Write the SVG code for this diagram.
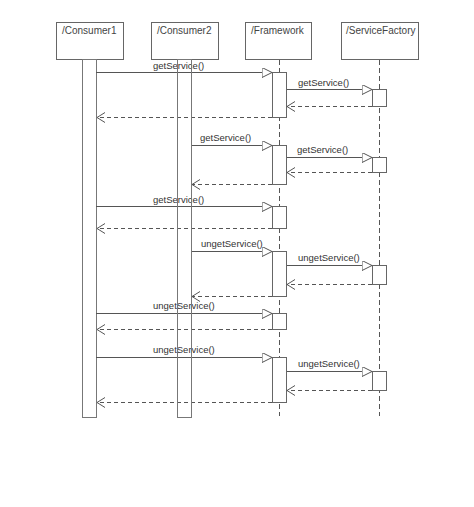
<svg xmlns="http://www.w3.org/2000/svg" width="474" height="507" viewBox="0 0 474 507">
<style>
.hdr{fill:#fff;stroke:#666;stroke-width:1}
.hl{font-family:"Liberation Sans",Arial,sans-serif;font-size:10px;fill:#444}
.lbl{font-family:"Liberation Sans",Arial,sans-serif;font-size:9.5px;fill:#333}
.life{stroke:#555;stroke-width:1;stroke-dasharray:5,3;fill:none}
.bar{fill:none;stroke:#777;stroke-width:1}
.act{fill:#fff;stroke:#666;stroke-width:1}
.call{stroke:#555;stroke-width:1;fill:none;marker-end:url(#tri)}
.ret{stroke:#555;stroke-width:1;fill:none;stroke-dasharray:4,3;marker-end:url(#vee)}
</style>
<defs>
<marker id="tri" markerWidth="12" markerHeight="12" refX="10" refY="5" orient="auto" markerUnits="userSpaceOnUse">
<path d="M0,0 L10,5 L0,10 Z" fill="#fff" stroke="#555" stroke-width="1"/>
</marker>
<marker id="vee" markerWidth="12" markerHeight="12" refX="9" refY="5" orient="auto" markerUnits="userSpaceOnUse">
<path d="M1,0 L9,5 L1,10" fill="none" stroke="#555" stroke-width="1"/>
</marker>
</defs>
<rect width="474" height="507" fill="#fff"/>

<g id="Consumer1">
<rect class="hdr" x="56.5" y="22.5" width="67" height="37"/>
<text class="hl" x="62" y="34">/Consumer1</text>
<rect class="bar" x="82.5" y="59.5" width="14" height="358"/>
</g>
<g id="Consumer2">
<rect class="hdr" x="151.5" y="22.5" width="67" height="37"/>
<text class="hl" x="157" y="34">/Consumer2</text>
</g>
<g id="Framework">
<rect class="hdr" x="245.5" y="22.5" width="66" height="37"/>
<text class="hl" x="251" y="34">/Framework</text>
<line class="life" x1="279.5" y1="60" x2="279.5" y2="416"/>
</g>
<g id="ServiceFactory">
<rect class="hdr" x="341.5" y="22.5" width="77" height="37"/>
<text class="hl" x="346" y="34">/ServiceFactory</text>
<line class="life" x1="379.5" y1="60" x2="379.5" y2="416"/>
</g>

<g id="activations">
<rect class="act" x="272.5" y="72.5" width="14" height="45"/>
<rect class="act" x="372.5" y="89.5" width="14" height="17"/>
<rect class="act" x="272.5" y="145.5" width="14" height="39"/>
<rect class="act" x="372.5" y="157.5" width="14" height="15"/>
<rect class="act" x="272.5" y="206.5" width="14" height="22"/>
<rect class="act" x="272.5" y="251.5" width="14" height="45"/>
<rect class="act" x="372.5" y="265.5" width="14" height="19"/>
<rect class="act" x="272.5" y="313.5" width="14" height="16"/>
<rect class="act" x="272.5" y="357.5" width="14" height="45"/>
<rect class="act" x="372.5" y="371.5" width="14" height="19"/>
</g>

<g id="labels">
<text class="lbl" x="153" y="69">getService()</text>
<text class="lbl" x="298" y="86">getService()</text>
<text class="lbl" x="200" y="141">getService()</text>
<text class="lbl" x="297" y="153">getService()</text>
<text class="lbl" x="153" y="203">getService()</text>
<text class="lbl" x="201" y="247">ungetService()</text>
<text class="lbl" x="298" y="261">ungetService()</text>
<text class="lbl" x="153" y="309">ungetService()</text>
<text class="lbl" x="153" y="353">ungetService()</text>
<text class="lbl" x="298" y="367">ungetService()</text>
</g>

<g id="connectors">
<line class="call" x1="96" y1="72.5" x2="272" y2="72.5"/>
<line class="call" x1="287" y1="89.5" x2="372" y2="89.5"/>
<line class="ret" x1="372" y1="106.5" x2="287" y2="106.5"/>
<line class="ret" x1="272" y1="117.5" x2="97" y2="117.5"/>

<line class="call" x1="191" y1="145.5" x2="272" y2="145.5"/>
<line class="call" x1="287" y1="157.5" x2="372" y2="157.5"/>
<line class="ret" x1="372" y1="172.5" x2="287" y2="172.5"/>
<line class="ret" x1="272" y1="184.5" x2="192" y2="184.5"/>

<line class="call" x1="96" y1="206.5" x2="272" y2="206.5"/>
<line class="ret" x1="272" y1="228.5" x2="97" y2="228.5"/>

<line class="call" x1="191" y1="251.5" x2="272" y2="251.5"/>
<line class="call" x1="287" y1="265.5" x2="372" y2="265.5"/>
<line class="ret" x1="372" y1="284.5" x2="287" y2="284.5"/>
<line class="ret" x1="272" y1="296.5" x2="192" y2="296.5"/>

<line class="call" x1="96" y1="313.5" x2="272" y2="313.5"/>
<line class="ret" x1="272" y1="329.5" x2="97" y2="329.5"/>

<line class="call" x1="96" y1="357.5" x2="272" y2="357.5"/>
<line class="call" x1="287" y1="371.5" x2="372" y2="371.5"/>
<line class="ret" x1="372" y1="390.5" x2="287" y2="390.5"/>
<line class="ret" x1="272" y1="402.5" x2="97" y2="402.5"/>
</g>

<g id="Consumer2-bar">
<rect class="bar" x="177.5" y="59.5" width="14" height="358"/>
</g>
</svg>
